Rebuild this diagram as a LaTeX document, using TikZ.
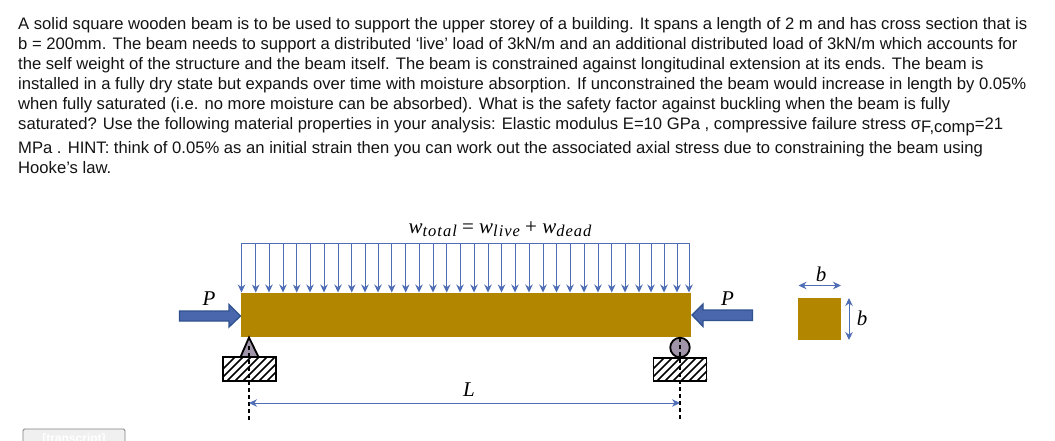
\documentclass[tikz,border=0pt]{standalone}
\usepackage{fontspec}
\setmainfont{Liberation Sans}
\newfontfamily\symbfont{Liberation Serif}
\newfontfamily\subfont[LetterSpace=6]{Liberation Serif}
\usetikzlibrary{arrows.meta}
\definecolor{beamcol}{HTML}{B38600}
\definecolor{loadcol}{HTML}{4F6DB5}
\definecolor{pushcol}{HTML}{4A66AC}
\definecolor{pushedge}{HTML}{2F528F}
\definecolor{pincol}{HTML}{A094A8}
\newcommand{\subw}[1]{\textit{w}\raisebox{-3pt}{\fontsize{16.5}{18}\subfont\itshape #1}}
\tikzset{
  txtline/.style={anchor=base west, inner sep=0pt, font=\fontsize{16.63}{20}\selectfont, text=black!92},
  symb/.style={inner sep=0pt, font=\fontsize{21}{24}\symbfont\itshape},
  loadline/.style={draw=loadcol, line width=.95pt, -{Stealth[length=8pt,width=7.5pt]}},
  dimline/.style={draw=loadcol, line width=.95pt, {Stealth[length=8pt,width=7.5pt]}-{Stealth[length=8pt,width=7.5pt]}},
  pusharrow/.style={fill=pushcol, draw=pushedge, line width=1.3pt},
  pin/.style={fill=pincol, draw=black, line width=1.8pt},
  basebox/.style={draw=black, line width=1.8pt},
  centreline/.style={draw=black, line width=1.2pt, dash pattern=on 4pt off 3pt},
}
\begin{document}
\begin{tikzpicture}[x=1pt, y=-1pt]
  \useasboundingbox[fill=white] (0, 0) rectangle (1055, 440);

  %%text
  \node[txtline] (ln1) at (18, 29){A solid square wooden beam is to be used to support the upper storey of a building. It spans a length of 2 m and has cross section that is};
  \node[txtline] (ln2) at (18, 49){b = 200mm. The beam needs to support a distributed ‘live’ load of 3kN/m and an additional distributed load of 3kN/m which accounts for};
  \node[txtline] (ln3) at (18, 69){the self weight of the structure and the beam itself. The beam is constrained against longitudinal extension at its ends. The beam is};
  \node[txtline] (ln4) at (18, 89){installed in a fully dry state but expands over time with moisture absorption. If unconstrained the beam would increase in length by 0.05\%};
  \node[txtline] (ln5) at (18, 109){when fully saturated (i.e. no more moisture can be absorbed). What is the safety factor against buckling when the beam is fully};
  \node[txtline] (ln6) at (18, 129){saturated? Use the following material properties in your analysis: Elastic modulus E=10 GPa , compressive failure stress σ\raisebox{-3.5pt}{F,comp}=21};
  \node[txtline] (ln7) at (18, 153){MPa . HINT: think of 0.05\% as an initial strain then you can work out the associated axial stress due to constraining the beam using};
  \node[txtline] (ln8) at (18, 173){Hooke’s law.};

  %%load
  \coordinate (loadl) at (241, 243);
  \coordinate (loadr) at (689, 243);
  \draw[draw=loadcol, line width=.95pt] (loadl) to (loadr);
  \foreach \x [count=\n] in {241.5, 255.7, 269, 283, 296.7, 310, 324, 338, 351.7, 365, 378, 391.7, 405.7, 419, 433, 446.7, 460,
                  474, 488, 501.5, 515, 529, 543, 556.5, 570, 584, 598, 611.7, 625, 639, 651, 664, 677, 689}{
    \coordinate (top\n) at (\x, 243);
    \coordinate (tip\n) at (\x, 292.5);
    \draw[loadline] (top\n) to (tip\n);
  }
  \node[symb] (wlabel) at (500, 229){\subw{total} {\upshape =} \subw{live} {\upshape +} \subw{dead}};

  %%beam
  \node[fill=beamcol, inner sep=0pt, minimum width=450pt, minimum height=44pt] (beam) at (466, 315){};

  %%push
  \fill[pusharrow] (179.5, 311) to (229, 311) to (229, 304.5) to (240.5, 316) to (229, 327) to (229, 321) to (179.5, 321) to cycle;
  \fill[pusharrow] (752.5, 310) to (703, 310) to (703, 304) to (692, 315) to (703, 326.5) to (703, 320.5) to (752.5, 320.5) to cycle;
  \node[symb] (pl) at (209, 299){P};
  \node[symb] (pr) at (727.5, 299){P};

  %%left support
  \begin{scope}
    \clip (223, 357) rectangle (276, 381);
    \foreach \x in {211, 219, ..., 291}
      \draw[line width=1.6pt] (\x, 381) to (\x + 24, 357);
  \end{scope}
  \node[basebox, inner sep=0pt, minimum width=53pt, minimum height=24pt] (lbase) at (249.5, 369){};
  \draw[pin] (249, 337.5) to (240.5, 357) to (258.5, 357) to cycle;
  \coordinate (ldash1) at (249, 346);
  \coordinate (ldash2) at (249, 421.5);
  \draw[centreline] (ldash1) to (ldash2);

  %%right support
  \begin{scope}
    \clip (653, 358) rectangle (707, 381);
    \foreach \x in {641, 649, ..., 721}
      \draw[line width=1.6pt] (\x, 381) to (\x + 23, 358);
  \end{scope}
  \node[basebox, inner sep=0pt, minimum width=53pt, minimum height=23pt] (rbase) at (680, 369.5){};
  \node[pin, circle, inner sep=0pt, minimum size=19.5pt] (roller) at (680, 347.5){};
  \coordinate (rdash1) at (680, 338);
  \coordinate (rdash2) at (680, 421.5);
  \draw[centreline] (rdash1) to (rdash2);

  %%span
  \coordinate (spanl) at (249, 403);
  \coordinate (spanr) at (680, 403);
  \draw[dimline] (spanl) to (spanr);
  \node[symb] (spanlabel) at (469, 390){L};

  %%section
  \node[fill=beamcol, inner sep=0pt, minimum width=42.5pt, minimum height=42.5pt] (sect) at (819.5, 319){};
  \coordinate (hdim1) at (798.5, 285.5);
  \coordinate (hdim2) at (841, 285.5);
  \draw[dimline] (hdim1) to (hdim2);
  \coordinate (vdim1) at (849, 298);
  \coordinate (vdim2) at (849, 340);
  \draw[dimline] (vdim1) to (vdim2);
  \node[symb] (hlabel) at (821, 274){b};
  \node[symb] (vlabel) at (862, 318){b};

  %%button
  \node[draw=black!50, fill=black!6, rounded corners=1.5pt, line width=.8pt, inner sep=0pt, minimum width=102pt, minimum height=20pt, text=white, font=\fontsize{12}{14}\bfseries\selectfont] (btn) at (74, 439){[transcript]};
\end{tikzpicture}
\end{document}
